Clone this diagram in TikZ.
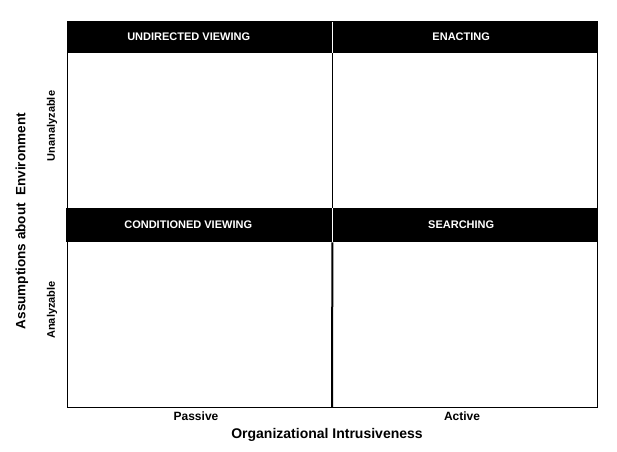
\documentclass[tikz,border=0pt]{standalone}
\usepackage{fontspec}
\setmainfont{Liberation Sans}
\newcommand{\hdrSty}[1]{\fontsize{11}{13}\selectfont\bfseries #1}

\begin{document}
\begin{tikzpicture}[x=1pt,y=-1pt,
		hdr/.style={fill=black, anchor=north west, minimum height=34pt, inner sep=0pt},
		hdrtext/.style={text=white, font=\hdrSty{}},
		axlbl/.style={font=\fontsize{12}{14}\selectfont\bfseries},
		sidelbl/.style={font=\fontsize{11}{13}\selectfont\bfseries, rotate=90}]

		\useasboundingbox (0,0) rectangle (617,451);

		% frame
		\draw[line width=1pt] (67,21) rectangle (597,407);

		% headers
		\node[hdr, minimum width=265pt, minimum height=32pt] (hUV) at (67,21) {};
		\node[hdr, minimum width=264pt, minimum height=32pt] (hEN) at (333,21) {};
		\node[hdr, minimum width=266pt] (hCV) at (66,208) {};
		\node[hdr, minimum width=264pt] (hSE) at (333,208) {};

		\node[hdrtext] (tUV) at ([xshift=-11pt]hUV.center) {UNDIRECTED VIEWING};
		\node[hdrtext] (tEN) at ([xshift=-4pt]hEN.center) {ENACTING};
		\node[hdrtext] (tCV) at ([xshift=-11pt]hCV.center) {CONDITIONED VIEWING};
		\node[hdrtext] (tSE) at ([xshift=-4pt]hSE.center) {SEARCHING};

		% divider
		\coordinate (bot) at (332,407);
		\draw[line width=1pt] (hUV.south east) -- (hCV.north east);
		\draw[line width=2pt] (hCV.south east) -- (bot);

		% x axis labels
		\node[axlbl] (pas) at (196,416) {Passive};
		\node[axlbl] (act) at (462,416) {Active};
		\node[font=\fontsize{14}{16}\selectfont\bfseries] (xlbl) at (327,435) {Organizational Intrusiveness};

		% y axis labels
		\node[sidelbl] (unan) at (52,126) {Unanalyzable};
		\node[sidelbl] (anal) at (52,310) {Analyzable};
		\node[font=\fontsize{13.5}{16}\selectfont\bfseries, rotate=90] (ylbl) at (22,221) {Assumptions about~~Environment};

\end{tikzpicture}
\end{document}
